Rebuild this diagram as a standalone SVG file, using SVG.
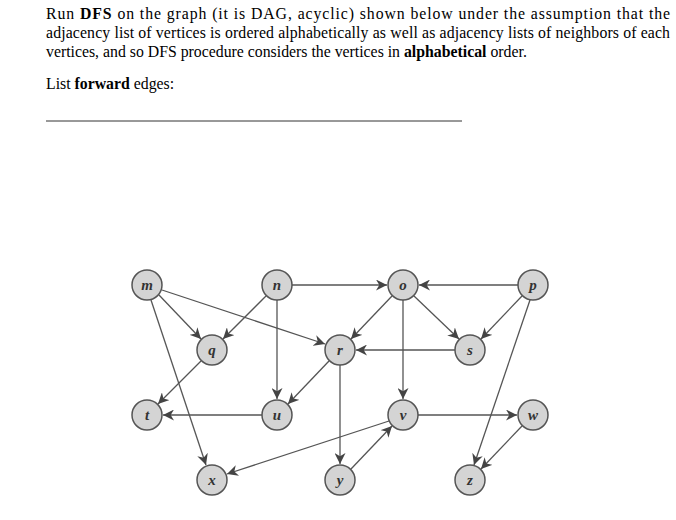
<svg xmlns="http://www.w3.org/2000/svg" width="676" height="520" viewBox="0 0 676 520">
<style>
.t{font-family:"Liberation Serif",serif;font-size:15.8px;fill:#000}
.n circle{fill:#d4d4d4;stroke:#555;stroke-width:1.5}
.n text{font-family:"Liberation Serif",serif;font-style:italic;font-weight:bold;font-size:15px;fill:#333;text-anchor:middle}
.e line{stroke:#555;stroke-width:1.3;marker-end:url(#a)}
</style>
<defs><marker id="a" viewBox="0 0 10 10" refX="10" refY="5" markerWidth="11" markerHeight="11" orient="auto" markerUnits="userSpaceOnUse"><path d="M0,0 L10,5 L0,10 L3,5 z" fill="#444"/></marker></defs>
<rect width="676" height="520" fill="#fff"/>
<text class="t" x="46" y="19" textLength="624" lengthAdjust="spacing">Run <tspan font-weight="bold">DFS</tspan> on the graph (it is DAG, acyclic) shown below under the assumption that the</text>
<text class="t" x="46" y="38" textLength="624" lengthAdjust="spacing">adjacency list of vertices is ordered alphabetically as well as adjacency lists of neighbors of each</text>
<text class="t" x="46" y="57">vertices, and so DFS procedure considers the vertices in <tspan font-weight="bold">alphabetical</tspan> order.</text>
<text class="t" x="46" y="89">List <tspan font-weight="bold">forward</tspan> edges:</text>
<line x1="46" y1="121" x2="462" y2="121" stroke="#333" stroke-width="1"/>
<g class="e">
<line x1="159" y1="295" x2="201" y2="339"/>
<line x1="162" y1="290" x2="325" y2="344"/>
<line x1="151" y1="300" x2="206" y2="465"/>
<line x1="266" y1="296" x2="223" y2="339"/>
<line x1="292" y1="285" x2="387" y2="285"/>
<line x1="277" y1="300" x2="277" y2="399"/>
<line x1="392" y1="296" x2="351" y2="339"/>
<line x1="414" y1="296" x2="459" y2="339"/>
<line x1="403" y1="300" x2="403" y2="399"/>
<line x1="518" y1="285" x2="419" y2="285"/>
<line x1="522" y1="296" x2="481" y2="339"/>
<line x1="530" y1="300" x2="474" y2="465"/>
<line x1="455" y1="350" x2="356" y2="350"/>
<line x1="201" y1="361" x2="158" y2="404"/>
<line x1="329" y1="361" x2="288" y2="404"/>
<line x1="340" y1="365" x2="340" y2="464"/>
<line x1="262" y1="415" x2="163" y2="415"/>
<line x1="418" y1="415" x2="517" y2="415"/>
<line x1="389" y1="421" x2="227" y2="474"/>
<line x1="351" y1="469" x2="392" y2="426"/>
<line x1="522" y1="426" x2="481" y2="469"/>
</g>
<g id="m" class="n"><circle cx="147" cy="285" r="15"/><text x="147" y="290">m</text></g>
<g id="n" class="n"><circle cx="277" cy="285" r="15"/><text x="277" y="290">n</text></g>
<g id="o" class="n"><circle cx="403" cy="285" r="15"/><text x="403" y="290">o</text></g>
<g id="p" class="n"><circle cx="533" cy="285" r="15"/><text x="533" y="290">p</text></g>
<g id="q" class="n"><circle cx="212" cy="350" r="15"/><text x="212" y="355">q</text></g>
<g id="r" class="n"><circle cx="340" cy="350" r="15"/><text x="340" y="355">r</text></g>
<g id="s" class="n"><circle cx="470" cy="350" r="15"/><text x="470" y="355">s</text></g>
<g id="t" class="n"><circle cx="147" cy="415" r="15"/><text x="147" y="420">t</text></g>
<g id="u" class="n"><circle cx="277" cy="415" r="15"/><text x="277" y="420">u</text></g>
<g id="v" class="n"><circle cx="403" cy="415" r="15"/><text x="403" y="420">v</text></g>
<g id="w" class="n"><circle cx="533" cy="415" r="15"/><text x="533" y="420">w</text></g>
<g id="x" class="n"><circle cx="212" cy="480" r="15"/><text x="212" y="485">x</text></g>
<g id="y" class="n"><circle cx="340" cy="480" r="15"/><text x="340" y="485">y</text></g>
<g id="z" class="n"><circle cx="470" cy="480" r="15"/><text x="470" y="485">z</text></g>
</svg>
